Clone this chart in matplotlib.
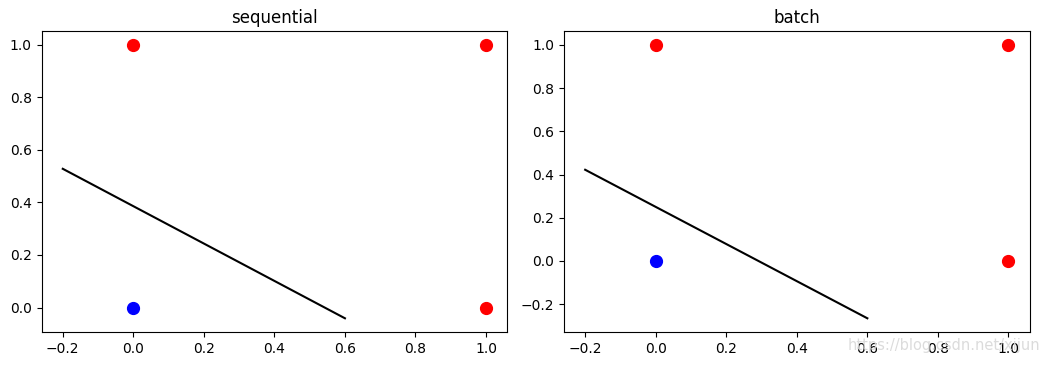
import matplotlib
matplotlib.use('Agg')
import matplotlib.pyplot as plt

# input points and labels
xs = [0, 0, 1, 1]
ys = [0, 1, 0, 1]
colors = ['blue', 'red', 'red', 'red']

# decision boundary end points
line_x = [-0.2, 0.6]
seq_y = [0.528, -0.041]
batch_y = [0.422, -0.265]

titles = ['sequential', 'batch']
lines = [seq_y, batch_y]

fig, axes = plt.subplots(1, 2, figsize=(10.4, 3.66), dpi=100)
for ax, title, ly in zip(axes, titles, lines):
    for x, y, c in zip(xs, ys, colors):
        ax.plot(x, y, 'o', color=c, markersize=8.5)
    ax.plot(line_x, ly, color='black')
    ax.set_title(title)

plt.subplots_adjust(left=0.040, right=0.990, bottom=0.093, top=0.915, wspace=0.122)
fig.text(0.815, 0.035, 'https://blog.csdn.net/xijun', color='#d8d8d8',
         fontsize=10.5, ha='left', va='bottom', alpha=0.9)
plt.savefig('out.png')
